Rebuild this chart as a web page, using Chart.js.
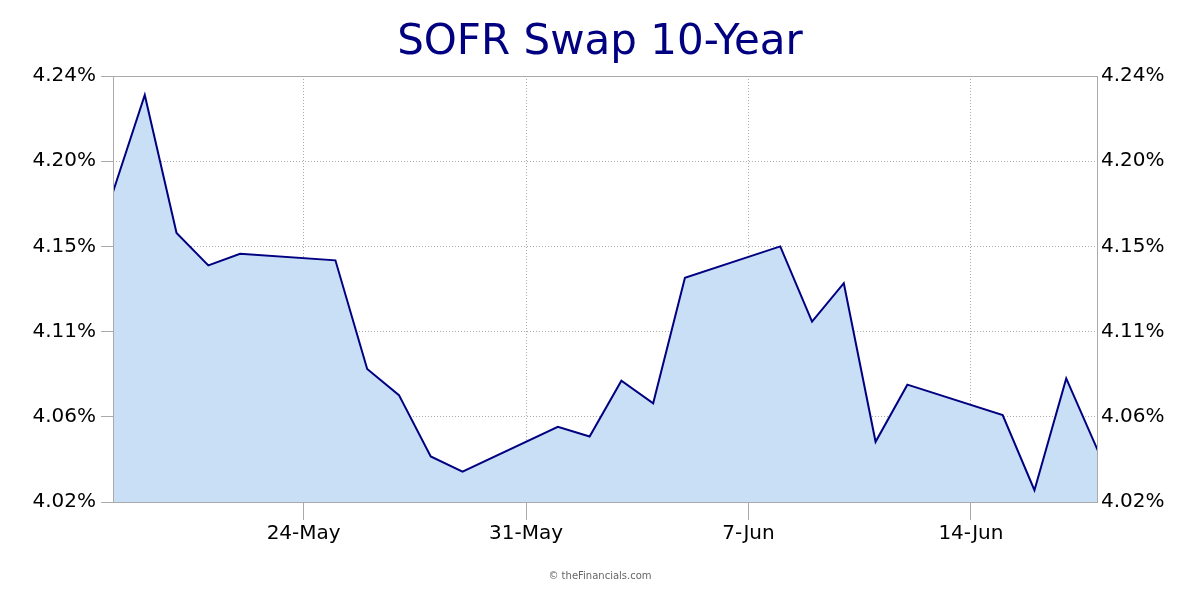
<!DOCTYPE html>
<html lang="en">
<head>
  <meta charset="UTF-8">
  <title>SOFR Swap 10-Year</title>
  <script src="https://cdn.jsdelivr.net/npm/chart.js"></script>
  <style>
    body { margin: 0; background: #fff; }
    .wrap { width: 1200px; height: 600px; }
  </style>
</head>
<body>
  <div class="wrap"><canvas id="swapChart"></canvas></div>

  <script>
    // daily closes
    const dates = [
      '2026-05-18', '2026-05-19', '2026-05-20', '2026-05-21', '2026-05-22',
      '2026-05-25', '2026-05-26', '2026-05-27', '2026-05-28', '2026-05-29',
      '2026-06-01', '2026-06-02', '2026-06-03', '2026-06-04', '2026-06-05',
      '2026-06-08', '2026-06-09', '2026-06-10', '2026-06-11', '2026-06-12',
      '2026-06-15', '2026-06-16', '2026-06-17', '2026-06-18'
    ];
    const rates = [
      4.1801, 4.2302, 4.1589, 4.1422, 4.1482,
      4.1448, 4.0887, 4.0752, 4.0435, 4.0357,
      4.0588, 4.0538, 4.0826, 4.0710, 4.1358,
      4.1520, 4.1132, 4.1330, 4.0511, 4.0806,
      4.0649, 4.0261, 4.0838, 4.0464
    ];
    const xTickDates = ['2026-05-24', '2026-05-31', '2026-06-07', '2026-06-14'];
    const xTickLabels = ['24-May', '31-May', '7-Jun', '14-Jun'];
    const yTicks = [4.02, 4.064, 4.108, 4.152, 4.196, 4.24];

    const DAY = 86400000;
    const start = Date.parse(dates[0]);
    const dayOf = d => (Date.parse(d) - start) / DAY;
    const xTickDays = xTickDates.map(dayOf);

    const points = dates.map((d, i) => ({ x: dayOf(d), y: rates[i] }));
    const font = 'DejaVu Sans';
    const pct = v => v.toFixed(2) + '%';

    // solid grey frame around the plot area
    const frame = {
      id: 'frame',
      afterDatasetsDraw(chart) {
        const a = chart.chartArea, ctx = chart.ctx;
        ctx.save();
        ctx.strokeStyle = '#aaaaaa';
        ctx.lineWidth = 1;
        ctx.strokeRect(a.left + 0.5, a.top + 0.5, a.right - a.left - 1, a.bottom - a.top);
        ctx.restore();
      }
    };

    new Chart(document.getElementById('swapChart'), {
      type: 'line',
      data: {
        datasets: [{
          data: points,
          borderColor: '#000080',
          borderWidth: 2,
          backgroundColor: '#c8dff5',
          fill: 'start',
          pointRadius: 0,
          tension: 0
        }]
      },
      options: {
        responsive: true,
        maintainAspectRatio: false,
        animation: false,
        layout: { padding: 0 },
        plugins: {
          legend: { display: false },
          tooltip: { enabled: false },
          title: {
            display: true,
            text: 'SOFR Swap 10-Year',
            color: '#000080',
            font: { family: font, size: 42, weight: 'normal' },
            padding: { top: 18, bottom: 7.6 }
          },
          subtitle: {
            display: true,
            position: 'bottom',
            text: '© theFinancials.com',
            color: '#666666',
            font: { family: font, size: 10 },
            padding: { top: 4, bottom: 18 }
          }
        },
        scales: {
          x: {
            type: 'linear',
            min: 0,
            max: dayOf(dates[dates.length - 1]),
            afterBuildTicks: s => { s.ticks = xTickDays.map(v => ({ value: v })); },
            afterFit: s => { s.height = 64; },
            ticks: {
              color: '#000',
              font: { family: font, size: 20 },
              padding: 2,
              maxRotation: 0,
              autoSkip: false,
              callback: v => xTickLabels[xTickDays.indexOf(v)]
            },
            grid: { color: '#aaaaaa', tickColor: '#aaaaaa', tickLength: 18 },
            border: { display: false, dash: [1, 2] }
          },
          y: {
            position: 'left',
            min: 4.02,
            max: 4.24,
            afterBuildTicks: s => { s.ticks = yTicks.map(v => ({ value: v })); },
            afterFit: s => { s.width = 113; },
            ticks: {
              color: '#000',
              font: { family: font, size: 20 },
              padding: 5,
              callback: pct
            },
            grid: { color: '#aaaaaa', tickColor: '#aaaaaa', tickLength: 12 },
            border: { display: false, dash: [1, 2] }
          },
          y2: {
            position: 'right',
            min: 4.02,
            max: 4.24,
            afterBuildTicks: s => { s.ticks = yTicks.map(v => ({ value: v })); },
            afterFit: s => { s.width = 102; },
            ticks: {
              color: '#000',
              font: { family: font, size: 20 },
              padding: 3,
              callback: pct
            },
            grid: { drawOnChartArea: false, drawTicks: false },
            border: { display: false }
          }
        }
      },
      plugins: [frame]
    });
  </script>
</body>
</html>
